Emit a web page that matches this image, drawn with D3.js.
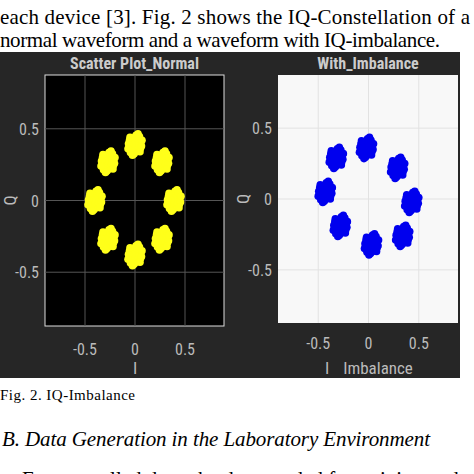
<!DOCTYPE html>
<html><head><meta charset="utf-8">
<script src="https://cdn.jsdelivr.net/npm/d3@7"></script>
<style>body{margin:0;background:#fff}svg{display:block}</style></head>
<body><script>
const ticks=[-0.5,0,0.5];
const normalCenters=[[0,0.39],[0.27,0.27],[0.39,0],[0.27,-0.27],[0,-0.38],[-0.27,-0.27],[-0.4,0],[-0.27,0.27]];
const imbCenters=[[-0.02,0.36],[0.29,0.22],[0.43,-0.02],[0.34,-0.26],[0.03,-0.32],[-0.28,-0.19],[-0.43,0.05],[-0.32,0.29]];
const jitter=[[0,0],[0.03,0.02],[-0.03,0.02],[0.02,-0.03],[-0.02,-0.03],[0.05,0],[-0.05,0.01],[0,0.05],[0.01,-0.05],[0.04,0.04],[-0.04,0.04],[0.04,-0.04],[-0.04,-0.04],[0.06,0.02],[-0.06,-0.02],[0.02,0.06],[-0.02,-0.06],[0.055,-0.025],[-0.055,0.03],[0.015,0.03],[-0.015,-0.015],[0.03,-0.01],[-0.03,0.005],[0.065,-0.01],[-0.065,0.005],[0.01,0.065],[-0.01,-0.065],[0.045,0.055],[-0.045,-0.055],[0.05,-0.05],[-0.05,0.05],[0.07,0.03],[-0.07,-0.03],[0.03,0.075],[-0.025,-0.075]];
const W=474,H=474;
const svg=d3.select("body").append("svg").attr("width",W).attr("height",H);
const serif="'Liberation Serif','Times New Roman',serif";
svg.append("text").attr("x",0).attr("y",24).attr("font-family",serif).attr("font-size",21).attr("textLength",470).attr("lengthAdjust","spacing").text("each device [3]. Fig. 2 shows the IQ-Constellation of a");
svg.append("text").attr("x",0).attr("y",47).attr("font-family",serif).attr("font-size",21).attr("textLength",440).text("normal waveform and a waveform with IQ-imbalance.");
svg.append("rect").attr("x",0).attr("y",52).attr("width",460).attr("height",326).attr("fill","#262626");
svg.append("text").attr("x",0).attr("y",400).attr("font-family",serif).attr("font-size",15).attr("textLength",135).text("Fig. 2. IQ-Imbalance");
svg.append("text").attr("x",2).attr("y",446).attr("font-family",serif).attr("font-size",21).attr("font-style","italic").attr("textLength",428).text("B.   Data Generation in the Laboratory Environment");
svg.append("text").attr("x",22).attr("y",486).attr("font-family",serif).attr("font-size",21).text("For controlled data, the data needed for training and");
const sans="'Liberation Sans Narrow','Roboto Condensed','DejaVu Sans Condensed',Arial,sans-serif";
function panel(x0,x1,y0,y1,bg,grid,col,centers,title,xlab,ilx,ily,tky){
  const x=d3.scaleLinear().domain([-0.9,0.89]).range([x0,x1]);
  const y=d3.scaleLinear().domain([-0.875,0.875]).range([y1,y0]);
  const g=svg.append("g");
  g.append("rect").attr("x",x0).attr("y",y0).attr("width",x1-x0).attr("height",y1-y0).attr("fill",bg).attr("stroke",bg==="#000"?"#ddd":"none").attr("stroke-width",1);
  ticks.forEach(t=>{
    g.append("line").attr("x1",x(t)).attr("x2",x(t)).attr("y1",y0).attr("y2",y1).attr("stroke",grid);
    g.append("line").attr("y1",y(t)).attr("y2",y(t)).attr("x1",x0).attr("x2",x1).attr("stroke",grid);
    g.append("text").attr("x",x(t)).attr("y",y1+tky).attr("text-anchor","middle").attr("fill","#bbb").attr("font-family",sans).attr("font-size",16).text(t===0?"0":t);
    g.append("text").attr("x",x0-6).attr("y",y(t)+6).attr("text-anchor","end").attr("fill","#bbb").attr("font-family",sans).attr("font-size",16).text(t===0?"0":t);
  });
  centers.forEach(c=>jitter.forEach(j=>{
    g.append("circle").attr("cx",x(c[0]+j[0])).attr("cy",y(c[1]+j[1])).attr("r",3.8).attr("fill",col);
  }));
  g.append("text").attr("x",(x0+x1)/2).attr("y",69).attr("text-anchor","middle").attr("fill","#ccc").attr("font-family",sans).attr("font-weight","bold").attr("font-size",16).text(title);
  g.append("text").attr("transform",`translate(${x0-35},${y(0)}) rotate(-90)`).attr("text-anchor","middle").attr("dy",6).attr("fill","#bbb").attr("font-family",sans).attr("font-size",17).text("Q");
  g.append("text").attr("x",ilx).attr("y",ily).attr("text-anchor","middle").attr("fill","#bbb").attr("font-family",sans).attr("font-size",17).text("I");
  if(xlab) g.append("text").attr("x",378).attr("y",ily).attr("text-anchor","middle").attr("fill","#bbb").attr("font-family",sans).attr("font-size",17).text(xlab);
}
panel(45,224,75,326,"#000","#555","#ffff1a",normalCenters,"Scatter Plot_Normal",null,135,374,29);
panel(278,458,75,323,"#f8f8f8","#e2e2e2","#0000ee",imbCenters,"With_Imbalance","Imbalance",327,374,26);
</script></body></html>
